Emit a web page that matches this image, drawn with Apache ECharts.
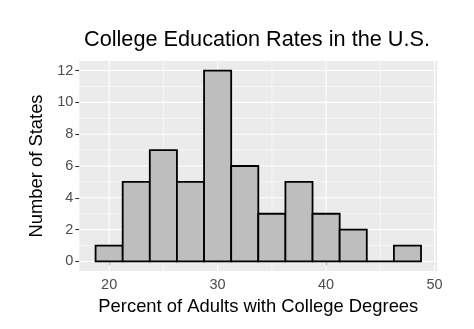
<!DOCTYPE html>
<html>
<head>
<meta charset="utf-8">
<script src="https://cdn.jsdelivr.net/npm/echarts@6/dist/echarts.min.js"></script>
<style>
  html, body { margin: 0; padding: 0; background: #fff; }
  #chart { width: 474px; height: 329px; }
</style>
</head>
<body>
<div id="chart"></div>
<script>
// Histogram bins: left edge, right edge, and number of states in each bin
var binStart = [18.75, 21.25, 23.75, 26.25, 28.75, 31.25, 33.75, 36.25, 38.75, 41.25, 43.75, 46.25];
var binEnd   = [21.25, 23.75, 26.25, 28.75, 31.25, 33.75, 36.25, 38.75, 41.25, 43.75, 46.25, 48.75];
var stateCounts = [1, 5, 7, 5, 12, 6, 3, 5, 3, 2, 0, 1];

// Axis ticks and grid lines
var xTicks = [20, 30, 40, 50];
var xMinor = [25, 35, 45];
var yTicks = [0, 2, 4, 6, 8, 10, 12];
var yMinor = [1, 3, 5, 7, 9, 11];

var FONT = '"Liberation Sans", Arial, sans-serif';

var bins = binStart.map(function (s, i) { return [s, binEnd[i], stateCounts[i]]; });

function vLines(values, width) {
  return {
    type: 'custom', z: 1, silent: true,
    data: values.map(function (v) { return [v, 0]; }),
    encode: { x: 0, y: 1 },
    renderItem: function (params, api) {
      var cs = params.coordSys;
      var x = api.coord([api.value(0), 0])[0];
      return { type: 'line', shape: { x1: x, y1: cs.y, x2: x, y2: cs.y + cs.height },
               style: { stroke: '#FFFFFF', lineWidth: width } };
    }
  };
}
function hLines(values, width) {
  return {
    type: 'custom', z: 1, silent: true,
    data: values.map(function (v) { return [30, v]; }),
    encode: { x: 0, y: 1 },
    renderItem: function (params, api) {
      var cs = params.coordSys;
      var y = api.coord([30, api.value(1)])[1];
      return { type: 'line', shape: { x1: cs.x, y1: y, x2: cs.x + cs.width, y2: y },
               style: { stroke: '#FFFFFF', lineWidth: width } };
    }
  };
}

var chart = echarts.init(document.getElementById('chart'), null, { renderer: 'canvas' });
chart.setOption({
  animation: false,
  backgroundColor: '#FFFFFF',
  title: {
    text: 'College Education Rates in the U.S.',
    left: 79, top: 24,
    textStyle: { fontFamily: FONT, fontSize: 21.7, fontWeight: 'normal', color: '#000000' }
  },
  grid: {
    left: 79.3, right: 36.7, top: 61, bottom: 58,
    show: true, backgroundColor: '#EBEBEB', borderWidth: 0
  },
  xAxis: {
    type: 'value', min: 17.25, max: 50.25,
    name: 'Percent of Adults with College Degrees',
    nameLocation: 'middle', nameGap: 27,
    nameTextStyle: { fontFamily: FONT, fontSize: 18.4, color: '#000000' },
    axisLine: { show: false },
    axisTick: { show: true, customValues: xTicks, length: 4, lineStyle: { color: '#333333', width: 1.1 } },
    axisLabel: { customValues: xTicks, margin: 6, fontFamily: FONT, fontSize: 14.5, color: '#4D4D4D' },
    splitLine: { show: false }
  },
  yAxis: {
    type: 'value', min: -0.6, max: 12.6,
    name: 'Number of States',
    nameLocation: 'middle', nameGap: 27, nameRotate: 90,
    nameTextStyle: { fontFamily: FONT, fontSize: 18.4, color: '#000000' },
    axisLine: { show: false },
    axisTick: { show: true, customValues: yTicks, length: 4, lineStyle: { color: '#333333', width: 1.1 } },
    axisLabel: { customValues: yTicks, margin: 6, fontFamily: FONT, fontSize: 14.5, color: '#4D4D4D' },
    splitLine: { show: false }
  },
  series: [
    vLines(xMinor, 0.55),
    hLines(yMinor, 0.55),
    vLines(xTicks, 1.1),
    hLines(yTicks, 1.1),
    {
      type: 'custom', z: 5,
      data: bins,
      encode: { x: [0, 1], y: 2 },
      renderItem: function (params, api) {
        var p0 = api.coord([api.value(0), 0]);
        var p1 = api.coord([api.value(1), api.value(2)]);
        return {
          type: 'rect',
          shape: { x: p0[0], y: p1[1], width: p1[0] - p0[0], height: p0[1] - p1[1] },
          style: { fill: '#BEBEBE', stroke: '#000000', lineWidth: 1.8 }
        };
      }
    }
  ]
});
</script>
</body>
</html>
